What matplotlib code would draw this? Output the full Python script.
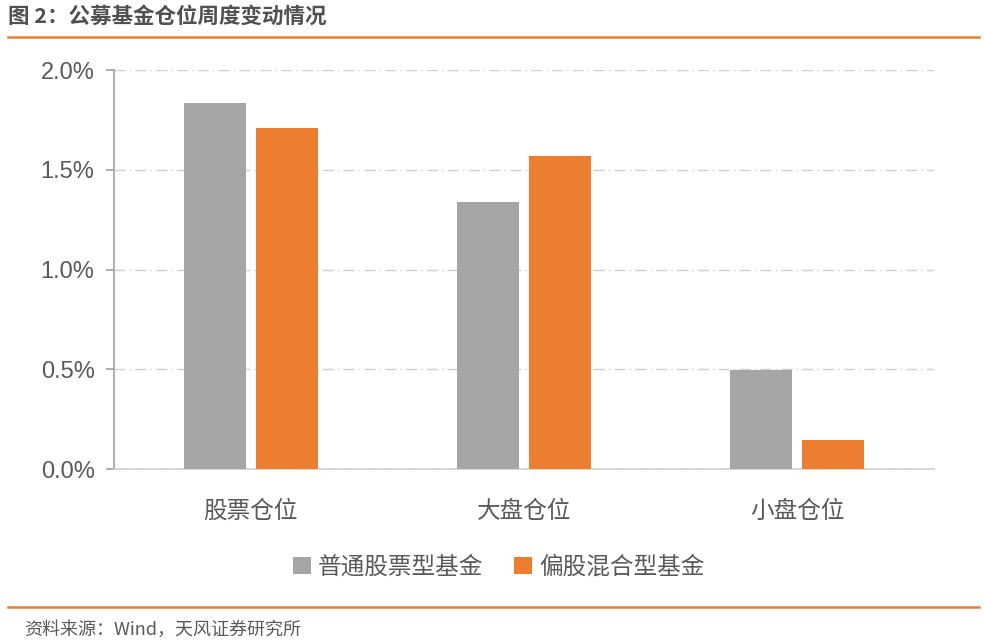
import matplotlib
matplotlib.use("Agg")
import matplotlib.pyplot as plt
import numpy as np
from matplotlib.ticker import FuncFormatter, MultipleLocator
from matplotlib.patches import Patch
from matplotlib.lines import Line2D

plt.rcParams['font.family'] = ['Noto Sans CJK SC', 'DejaVu Sans']

# data (weekly change in fund positions, %)
categories = ['股票仓位', '大盘仓位', '小盘仓位']
series_names = ['普通股票型基金', '偏股混合型基金']
stock_fund = [1.835, 1.338, 0.496]
hybrid_fund = [1.709, 1.569, 0.145]
colors = ['#A5A5A5', '#ED7D31']

title = '图 2：公募基金仓位周度变动情况'
source = '资料来源：Wind，天风证券研究所'

text_color = '#595959'

fig = plt.figure(figsize=(9.84, 6.44), dpi=100)
ax = fig.add_axes([0.1159, 0.2717, 0.8333, 0.6196])

x = np.arange(len(categories))
w = 0.227
off = 0.132
ax.bar(x - off, stock_fund, width=w, color=colors[0], zorder=3)
ax.bar(x + off, hybrid_fund, width=w, color=colors[1], zorder=3)

ax.set_xlim(-0.5, 2.5)
ax.set_ylim(0, 2.0)
ax.yaxis.set_major_locator(MultipleLocator(0.5))
ax.yaxis.set_major_formatter(FuncFormatter(lambda v, p: f'{v:.1f}%'))
ax.set_xticks(x)
ax.set_xticklabels(categories, fontsize=17, color=text_color)

ax.grid(axis='y', color='#D0D0D0', linestyle=(0, (8, 3, 1, 3)), linewidth=1.0, zorder=0)
for s in ['top', 'right']:
    ax.spines[s].set_visible(False)
ax.spines['left'].set_color('#A0A0A0')
ax.spines['left'].set_linewidth(1.2)
ax.spines['bottom'].set_color('#D0D0D0')
ax.spines['bottom'].set_linewidth(1.2)

ax.tick_params(axis='y', length=6, color='#A0A0A0', width=1.2, pad=8, labelcolor=text_color)
ax.tick_params(axis='x', length=0, pad=22)
for lab in ax.get_yticklabels():
    lab.set_fontfamily(['Liberation Sans', 'DejaVu Sans'])
    lab.set_fontsize(17)

handles = [Patch(facecolor=c, edgecolor='none') for c in colors]
fig.legend(handles, series_names, loc='center', bbox_to_anchor=(0.507, 0.119),
           ncol=2, frameon=False, fontsize=17, labelcolor=text_color,
           handlelength=0.75, handleheight=0.75, handletextpad=0.3, columnspacing=1.3)

# title, source and the orange rules
fig.text(0.008, 0.975, title, fontsize=15.5, fontweight='bold', color='#505050',
         ha='left', va='center')
fig.add_artist(Line2D([0.008, 0.995], [0.943, 0.943], transform=fig.transFigure,
                      color='#ED7D31', linewidth=1.8))
fig.add_artist(Line2D([0.008, 0.995], [0.057, 0.057], transform=fig.transFigure,
                      color='#ED7D31', linewidth=1.8))
fig.text(0.025, 0.022, source, fontsize=13, color=text_color, ha='left', va='center')

fig.savefig('out.png', dpi=100)
